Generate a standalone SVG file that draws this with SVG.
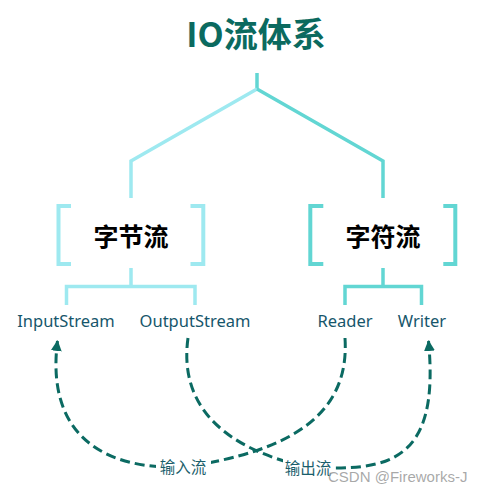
<svg xmlns="http://www.w3.org/2000/svg" width="486" height="492" viewBox="0 0 486 492">
<defs>
<style>
.lc{fill:none;stroke:#9ee9f0;stroke-width:3.5}
.rc{fill:none;stroke:#62d6d3;stroke-width:3.5}
.br{fill:none;stroke-width:4}
.flow{fill:none;stroke:#0b6a62;stroke-width:3;stroke-dasharray:10 5}
.title{font-family:"Noto Sans CJK SC","Noto Sans",sans-serif;font-weight:bold;font-size:34px;fill:#0b6a5f}
.cat{font-family:"Noto Sans CJK SC",sans-serif;font-weight:bold;font-size:25px;fill:#000}
.leaf{font-family:"Noto Sans","Liberation Sans",sans-serif;font-size:16.5px;fill:#16566b}
.fl{font-family:"Noto Sans CJK SC",sans-serif;font-size:15.5px;fill:#1a5e6b}
</style>
<marker id="ah" markerUnits="userSpaceOnUse" markerWidth="11" markerHeight="11" refX="10" refY="5.5" orient="auto" viewBox="0 0 11 11">
<path d="M0,0 L11,5.5 L0,11 z" fill="#0b6a62"/>
</marker>
</defs>
<rect width="486" height="492" fill="#fff"/>
<g id="title"><text class="title" x="256" y="47" text-anchor="middle">IO流体系</text></g>
<g id="connectors">
<path class="rc" d="M257,73 V89"/>
<path class="lc" d="M257,89 L131,161 V198"/>
<path class="rc" d="M257,89 L383,161 V198"/>
<path class="lc" d="M131,268 V286.5 M66.5,305 V286.5 H195 V305"/>
<path class="rc" d="M383,268 V286.5 M345,305 V286.5 H421.5 V305"/>
<path class="flow" d="M345,338 C350,415 290,452 183,467 C110,470 45,440 57.5,341" marker-end="url(#ah)"/>
<path class="flow" d="M188,338 C178,410 230,450 307,467 C390,472 440,462 428.5,341" marker-end="url(#ah)"/>
</g>
<g id="byteStream">
<path class="br" stroke="#9ee9f0" d="M71,206 H58.5 V264 H71 M190.5,206 H203.3 V264 H190.5"/>
<text class="cat" x="131" y="246" text-anchor="middle">字节流</text>
</g>
<g id="charStream">
<path class="br" stroke="#62d6d3" d="M323.3,206 H310.3 V264 H323.3 M443.3,206 H455.3 V264 H443.3"/>
<text class="cat" x="383" y="246" text-anchor="middle">字符流</text>
</g>
<g id="InputStream"><text class="leaf" x="66" y="327" text-anchor="middle">InputStream</text></g>
<g id="OutputStream"><text class="leaf" x="195" y="327" text-anchor="middle">OutputStream</text></g>
<g id="Reader"><text class="leaf" x="345" y="327" text-anchor="middle">Reader</text></g>
<g id="Writer"><text class="leaf" x="422" y="327" text-anchor="middle">Writer</text></g>
<g id="inLabel"><rect x="156" y="457" width="55" height="20" fill="#fff"/><text class="fl" x="183" y="473" text-anchor="middle">输入流</text></g>
<g id="outLabel"><rect x="283" y="458" width="50" height="20" fill="#fff"/><text class="fl" x="308" y="474" text-anchor="middle">输出流</text></g>
<text x="328" y="482" font-family="Liberation Sans, sans-serif" font-size="15" fill="#999" fill-opacity="0.85">CSDN @Fireworks-J</text>
</svg>
